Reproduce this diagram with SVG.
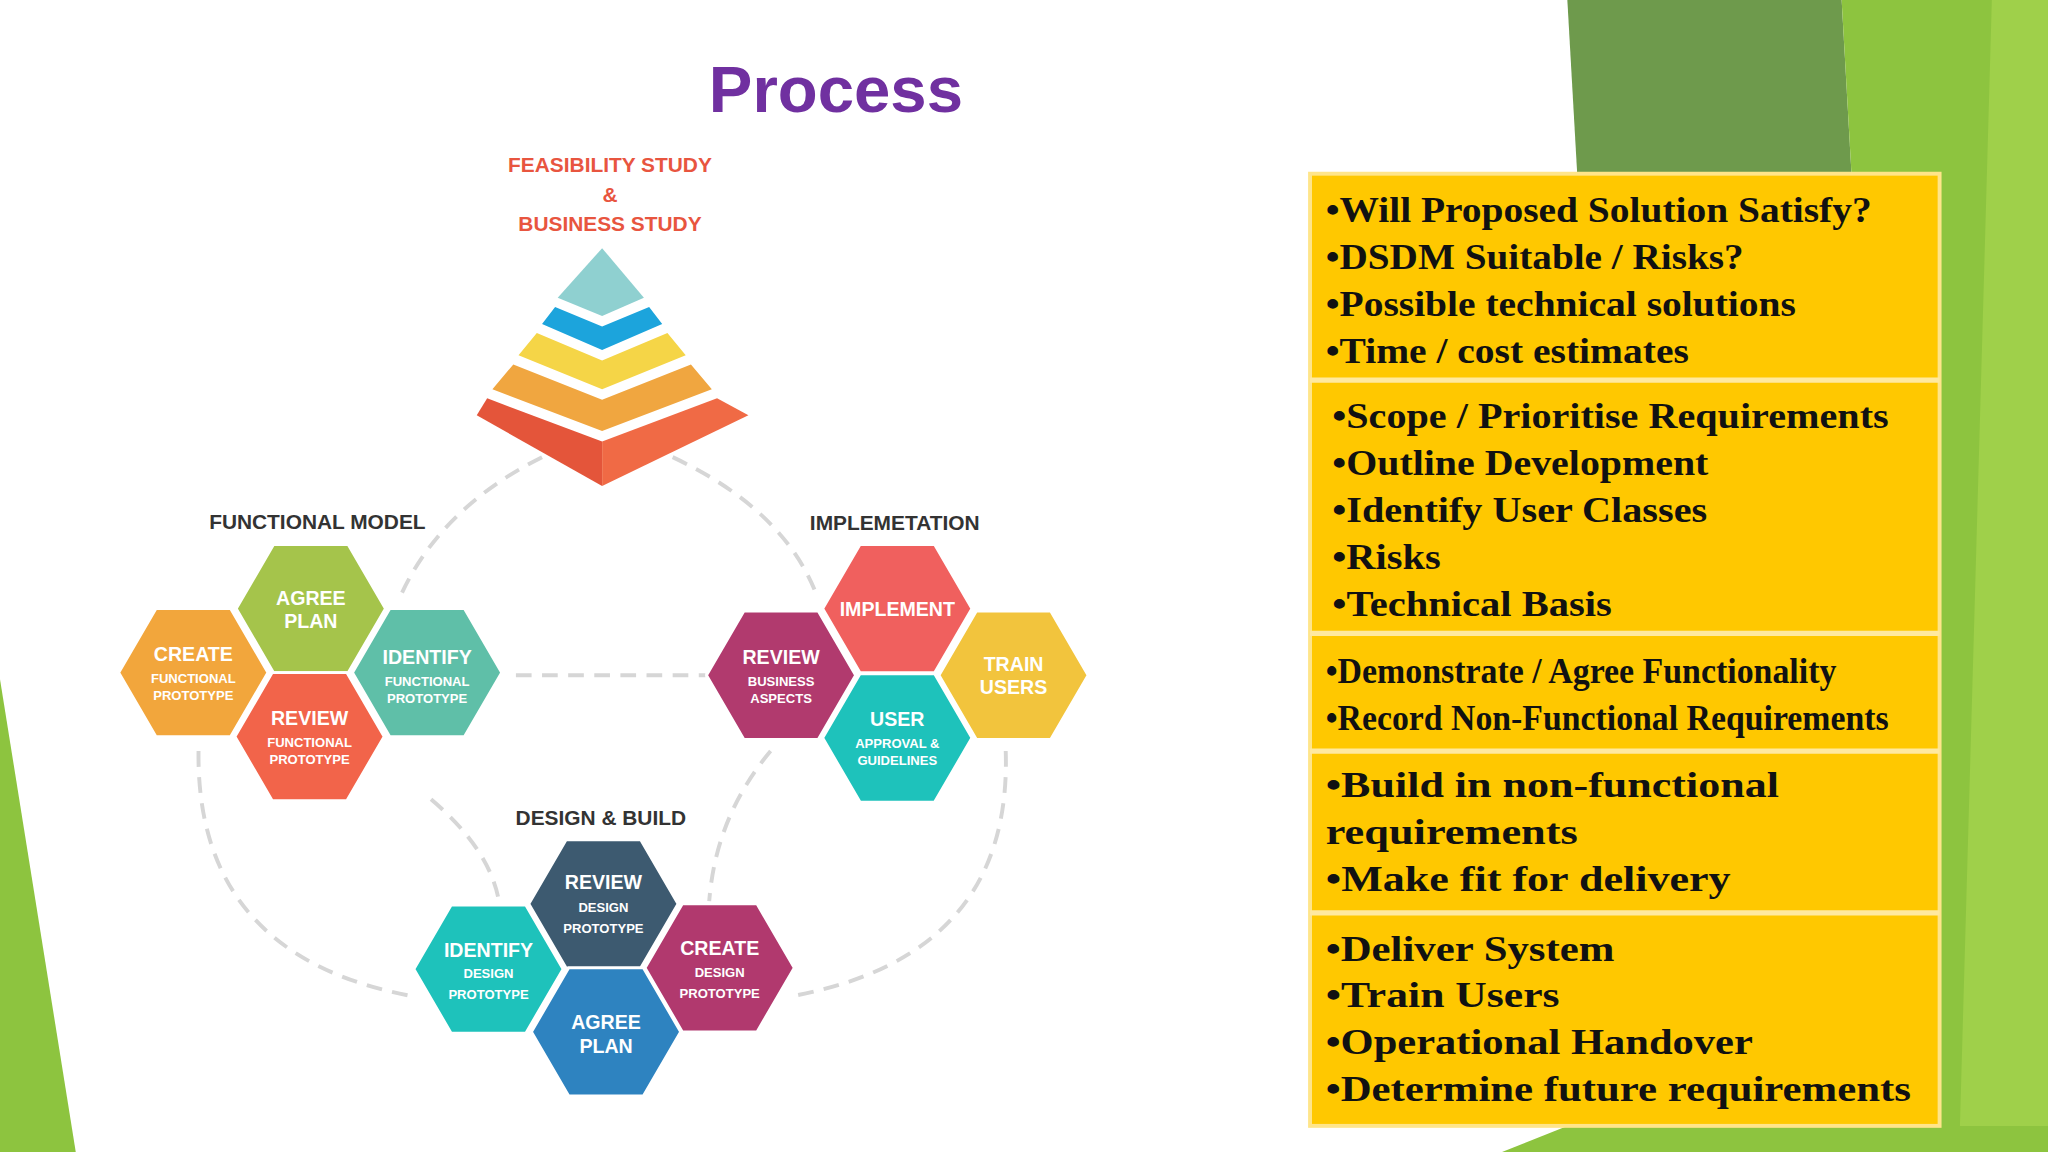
<svg xmlns="http://www.w3.org/2000/svg" width="2048" height="1152" viewBox="0 0 2048 1152">
<style>
.hx{stroke:#fff;stroke-width:2}
.ht{font-family:"Liberation Sans",Arial,sans-serif;font-weight:bold;fill:#fff;text-anchor:middle}
.big{font-size:15px}
.sm{font-size:10px}
.sec{font-family:"Liberation Sans",Arial,sans-serif;font-weight:bold;font-size:16px;fill:#333;text-anchor:middle}
.bx{font-family:"Liberation Serif","Times New Roman",serif;font-weight:bold;font-size:27px;fill:#111}
.dash{fill:none;stroke:#d6d6d6;stroke-width:3;stroke-dasharray:12 8}
</style>
<defs>
<polygon id="hex" points="-57,0 -28.5,-49 28.5,-49 57,0 28.5,49 -28.5,49"/>
</defs>
<rect width="2048" height="1152" fill="#fff"/>
<g transform="scale(1.30612)">
<g id="background">
<polygon points="1200,0 1410,0 1460,882 1250,882" fill="#6e9a4c"/>
<polygon points="1410,0 1568,0 1568,882 1460,882" fill="#8dc43f"/>
<polygon points="1525,0 1568,0 1568,882 1500,882" fill="#9fd04a"/>
<polygon points="1150,882 1200,862 1568,862 1568,882" fill="#8dc43f"/>
<polygon points="0,520 58,882 0,882" fill="#8dc43f"/>
</g>
<text x="640" y="86" font-family="Liberation Sans,Arial,sans-serif" font-weight="bold" font-size="50" fill="#7030a0" text-anchor="middle">Process</text>
<g id="connectors">
<path class="dash" d="M415,350 Q335,390 305,460"/>
<path class="dash" d="M515,350 Q600,390 625,455"/>
<path class="dash" d="M395,517 L540,517"/>
<path class="dash" d="M330,612 Q375,650 382,690"/>
<path class="dash" d="M590,575 Q548,625 543,690"/>
<path class="dash" d="M152,575 Q150,730 312,762"/>
<path class="dash" d="M770,575 Q775,730 610,762"/>
</g>
<g id="feasibility">
<text x="467" y="132" font-family="Liberation Sans,Arial,sans-serif" font-weight="bold" font-size="16" fill="#e8553f" text-anchor="middle">FEASIBILITY STUDY</text>
<text x="467" y="155" font-family="Liberation Sans,Arial,sans-serif" font-weight="bold" font-size="16" fill="#e8553f" text-anchor="middle">&amp;</text>
<text x="467" y="177" font-family="Liberation Sans,Arial,sans-serif" font-weight="bold" font-size="16" fill="#e8553f" text-anchor="middle">BUSINESS STUDY</text>
<polygon points="461,190 493,228 461,242 427,228" fill="#8fd0d0"/>
<polygon points="425,235 461,250 497,235 507,248 461,268 415,248" fill="#1ca4dc"/>
<polygon points="411,255 461,276 511,255 525,272 461,298 397,272" fill="#f5d547"/>
<polygon points="393,279 461,306 529,279 545,298 461,330 377,298" fill="#f0a640"/>
<polygon points="373,305 461,338 461,372 365,318" fill="#e4553a"/>
<polygon points="549,305 461,338 461,372 573,318" fill="#f06a45"/>
</g>
<text class="sec" x="243" y="405">FUNCTIONAL MODEL</text>
<text class="sec" x="685" y="406">IMPLEMETATION</text>
<text class="sec" x="460" y="632">DESIGN &amp; BUILD</text>
<g id="fm-agree" transform="translate(238,466)"><use href="#hex" class="hx" fill="#a5c44b"/><text class="ht big" y="-3">AGREE</text><text class="ht big" y="15">PLAN</text></g>
<g id="fm-create" transform="translate(148,515)"><use href="#hex" class="hx" fill="#f2a63c"/><text class="ht big" y="-9">CREATE</text><text class="ht sm" y="8">FUNCTIONAL</text><text class="ht sm" y="21">PROTOTYPE</text></g>
<g id="fm-identify" transform="translate(327,515)"><use href="#hex" class="hx" fill="#5fbfa8"/><text class="ht big" y="-7">IDENTIFY</text><text class="ht sm" y="10">FUNCTIONAL</text><text class="ht sm" y="23">PROTOTYPE</text></g>
<g id="fm-review" transform="translate(237,564)"><use href="#hex" class="hx" fill="#f2644a"/><text class="ht big" y="-9">REVIEW</text><text class="ht sm" y="8">FUNCTIONAL</text><text class="ht sm" y="21">PROTOTYPE</text></g>
<g id="im-implement" transform="translate(687,466)"><use href="#hex" class="hx" fill="#f0605e"/><text class="ht big" y="6">IMPLEMENT</text></g>
<g id="im-review" transform="translate(598,517)"><use href="#hex" class="hx" fill="#b13a6e"/><text class="ht big" y="-9">REVIEW</text><text class="ht sm" y="8">BUSINESS</text><text class="ht sm" y="21">ASPECTS</text></g>
<g id="im-train" transform="translate(776,517)"><use href="#hex" class="hx" fill="#f2c43d"/><text class="ht big" y="-3">TRAIN</text><text class="ht big" y="14">USERS</text></g>
<g id="im-user" transform="translate(687,565)"><use href="#hex" class="hx" fill="#1ec2bb"/><text class="ht big" y="-9">USER</text><text class="ht sm" y="8">APPROVAL &amp;</text><text class="ht sm" y="21">GUIDELINES</text></g>
<g id="db-review" transform="translate(462,692)"><use href="#hex" class="hx" fill="#3d5a70"/><text class="ht big" y="-11">REVIEW</text><text class="ht sm" y="6">DESIGN</text><text class="ht sm" y="22">PROTOTYPE</text></g>
<g id="db-identify" transform="translate(374,742)"><use href="#hex" class="hx" fill="#1ec2bb"/><text class="ht big" y="-9">IDENTIFY</text><text class="ht sm" y="7">DESIGN</text><text class="ht sm" y="23">PROTOTYPE</text></g>
<g id="db-create" transform="translate(551,741)"><use href="#hex" class="hx" fill="#b1396e"/><text class="ht big" y="-10">CREATE</text><text class="ht sm" y="7">DESIGN</text><text class="ht sm" y="23">PROTOTYPE</text></g>
<g id="db-agree" transform="translate(464,790)"><use href="#hex" class="hx" fill="#2e83c0"/><text class="ht big" y="-2">AGREE</text><text class="ht big" y="16">PLAN</text></g>
<g id="box">
<rect x="1003" y="133" width="482" height="729" fill="#ffc800" stroke="#ffe58a" stroke-width="3"/>
<g stroke="#ffe9a0" stroke-width="4"><line x1="1003" y1="291" x2="1485" y2="291"/><line x1="1003" y1="485" x2="1485" y2="485"/><line x1="1003" y1="575" x2="1485" y2="575"/><line x1="1003" y1="699" x2="1485" y2="699"/></g>
<text class="bx" x="1015" y="170" textLength="418" lengthAdjust="spacingAndGlyphs">•Will Proposed Solution Satisfy?</text>
<text class="bx" x="1015" y="206" textLength="320" lengthAdjust="spacingAndGlyphs">•DSDM Suitable / Risks?</text>
<text class="bx" x="1015" y="242" textLength="360" lengthAdjust="spacingAndGlyphs">•Possible technical solutions</text>
<text class="bx" x="1015" y="278" textLength="278" lengthAdjust="spacingAndGlyphs">•Time / cost estimates</text>
<text class="bx" x="1020" y="328" textLength="426" lengthAdjust="spacingAndGlyphs">•Scope / Prioritise Requirements</text>
<text class="bx" x="1020" y="364" textLength="288" lengthAdjust="spacingAndGlyphs">•Outline Development</text>
<text class="bx" x="1020" y="400" textLength="287" lengthAdjust="spacingAndGlyphs">•Identify User Classes</text>
<text class="bx" x="1020" y="436" textLength="83" lengthAdjust="spacingAndGlyphs">•Risks</text>
<text class="bx" x="1020" y="472" textLength="214" lengthAdjust="spacingAndGlyphs">•Technical Basis</text>
<text class="bx" x="1015" y="523" textLength="391" lengthAdjust="spacingAndGlyphs">•Demonstrate / Agree Functionality</text>
<text class="bx" x="1015" y="559" textLength="431" lengthAdjust="spacingAndGlyphs">•Record Non-Functional Requirements</text>
<text class="bx" x="1015" y="610" textLength="347" lengthAdjust="spacingAndGlyphs">•Build in non-functional</text>
<text class="bx" x="1015" y="646" textLength="193" lengthAdjust="spacingAndGlyphs">requirements</text>
<text class="bx" x="1015" y="682" textLength="310" lengthAdjust="spacingAndGlyphs">•Make fit for delivery</text>
<text class="bx" x="1015" y="736" textLength="221" lengthAdjust="spacingAndGlyphs">•Deliver System</text>
<text class="bx" x="1015" y="771" textLength="179" lengthAdjust="spacingAndGlyphs">•Train Users</text>
<text class="bx" x="1015" y="807" textLength="327" lengthAdjust="spacingAndGlyphs">•Operational Handover</text>
<text class="bx" x="1015" y="843" textLength="448" lengthAdjust="spacingAndGlyphs">•Determine future requirements</text>
</g>
</g>
</svg>
